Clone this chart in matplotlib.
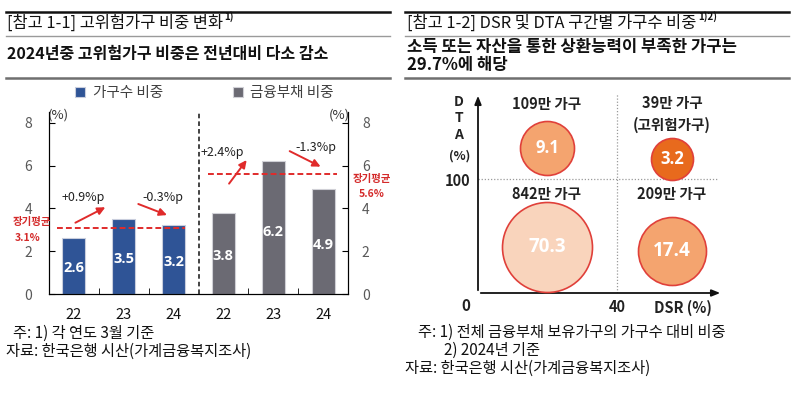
import matplotlib
matplotlib.use("Agg")
import matplotlib.pyplot as plt
from matplotlib.lines import Line2D

plt.rcParams['font.family'] = ['Noto Sans CJK KR', 'DejaVu Sans']

# left chart data
years = ['22', '23', '24']
hh_share = [2.6, 3.5, 3.2]        # 가구수 비중
debt_share = [3.8, 6.2, 4.9]      # 금융부채 비중
hh_avg = 3.1
debt_avg = 5.6
hh_changes = ['+0.9%p', '-0.3%p']
debt_changes = ['+2.4%p', '-1.3%p']

# right chart data (quadrants: DSR high?, DTA high?)
quad_share = [9.1, 3.2, 70.3, 17.4]
quad_households = ['109만 가구', '39만 가구\n(고위험가구)', '842만 가구', '209만 가구']
quad_dsr_high = [0, 1, 0, 1]
quad_dta_high = [1, 1, 0, 0]

W, H = 800, 398
fig = plt.figure(figsize=(W / 100, H / 100), dpi=100)
num_font = ['Open Sans', 'DejaVu Sans']


def fx(px):
    return px / W


def fy(py):
    return 1 - py / H


def hline(x0, x1, y, color, lw):
    fig.add_artist(Line2D([fx(x0), fx(x1)], [fy(y), fy(y)], color=color, lw=lw,
                          transform=fig.transFigure))


# header rules
for x0, x1 in [(6, 390), (405, 789)]:
    hline(x0, x1, 11.5, '#111111', 1.8)
    hline(x0, x1, 35.5, '#9a9a9a', 1.0)
    hline(x0, x1, 77.5, '#6f6f6f', 1.8)

renderer = fig.canvas.get_renderer()
t1 = fig.text(fx(7), fy(23), '[참고 1-1] 고위험가구 비중 변화', fontsize=11.8, va='center', color='#111111')
bb = t1.get_window_extent(renderer)
fig.text(bb.x1 / W + 0.002, fy(17), '1)', fontsize=7, fontweight='bold', va='center', color='#111111')
fig.text(fx(7), fy(54), '2024년중 고위험가구 비중은 전년대비 다소 감소', fontsize=11.5,
         fontweight='bold', va='center', color='#111111')

t2 = fig.text(fx(407), fy(23), '[참고 1-2] DSR 및 DTA 구간별 가구수 비중', fontsize=11.8, va='center', color='#111111')
bb = t2.get_window_extent(renderer)
fig.text(bb.x1 / W + 0.002, fy(17), '1)2)', fontsize=7, fontweight='bold', va='center', color='#111111')
fig.text(fx(407), fy(56), '소득 또는 자산을 통한 상환능력이 부족한 가구는\n29.7%에 해당', fontsize=12,
         fontweight='bold', va='center', color='#111111', linespacing=0.98)

# ---------------- left bar chart ----------------
blue = '#2F5496'
gray = '#6B6A73'
red = '#E02B2B'
ax = fig.add_axes([fx(49), fy(294), fx(348) - fx(49), (294 - 112) / H])
xs = list(range(6))
b1 = ax.bar(xs[:3], hh_share, width=0.46, color=blue, edgecolor='#C9CEDD', lw=0.8, label='가구수 비중')
b2 = ax.bar(xs[3:], debt_share, width=0.46, color=gray, edgecolor='#D0D0D6', lw=0.8, label='금융부채 비중')
for x, v in zip(xs, hh_share + debt_share):
    ax.text(x, v * 0.47, f'{v:.1f}', color='white', fontsize=10.5, fontweight='bold',
            ha='center', va='center', family=num_font)

ax.set_xlim(-0.5, 5.5)
ax.set_ylim(0, 8.5)
ax.set_yticks([0, 2, 4, 6, 8])
ax.set_xticks(xs)
ax.set_xticklabels(years + years, fontsize=10.5, color='#111111')
ax.tick_params(axis='x', length=0, pad=10)
ax.set_xticks([0.5, 1.5, 3.5, 4.5], minor=True)
ax.tick_params(axis='x', which='minor', direction='in', length=4)
ax.tick_params(axis='y', direction='in', length=4, labelsize=10, labelcolor='#595959', pad=12)
ax.spines['top'].set_visible(False)

ax2 = ax.twinx()
ax2.set_ylim(0, 8.5)
ax2.set_yticks([0, 2, 4, 6, 8])
ax2.tick_params(axis='y', direction='in', length=4, labelsize=10, labelcolor='#595959', pad=10)
ax2.spines['top'].set_visible(False)

ax.axvline(2.5, color='#111111', ls=(0, (3, 2)), lw=1.1)
ax.plot([-0.34, 2.22], [hh_avg, hh_avg], color=red, ls=(0, (3, 1.6)), lw=1.4)
ax.plot([2.7, 5.28], [debt_avg, debt_avg], color=red, ls=(0, (3, 1.6)), lw=1.4)

ax.text(0.03, 0.985, '(%)', transform=ax.transAxes, fontsize=9.5, color='#333333', ha='center', va='center')
ax.text(0.97, 0.985, '(%)', transform=ax.transAxes, fontsize=9.5, color='#333333', ha='center', va='center')

fig.text(fx(32), fy(222), '장기평균', color='#D42A2A', fontsize=7.5, fontweight='bold', ha='center', va='center')
fig.text(fx(28), fy(238), f'{hh_avg}%', color='#D42A2A', fontsize=7.5, fontweight='bold', ha='center', va='center')
fig.text(fx(372), fy(179), '장기평균', color='#D42A2A', fontsize=7.5, fontweight='bold', ha='center', va='center')
fig.text(fx(372), fy(194), f'{debt_avg}%', color='#D42A2A', fontsize=7.5, fontweight='bold', ha='center', va='center')

# change arrows: (text, text pos, arrow start, arrow end)
arrows = [
    (hh_changes[0], (0.18, 4.5), (-0.02, 3.27), (0.68, 4.11)),
    (hh_changes[1], (1.78, 4.5), (1.24, 4.25), (1.92, 3.64)),
    (debt_changes[0], (2.98, 6.6), (3.08, 5.05), (3.5, 6.36)),
    (debt_changes[1], (4.86, 6.82), (4.28, 6.73), (5.0, 5.89)),
]
for label, tpos, a0, a1 in arrows:
    ax.text(tpos[0], tpos[1], label, fontsize=9, color='#222222', ha='center', va='center')
    ax.annotate('', xy=a1, xytext=a0,
                arrowprops=dict(arrowstyle='-|>,head_length=0.45,head_width=0.22', color=red, lw=1.4))

ax.legend(handles=[b1, b2], loc='center', bbox_to_anchor=(0.52, 1.0 + 19 / 182), ncol=2, frameon=False,
          fontsize=10.5, handlelength=0.7, handleheight=0.7, handletextpad=0.5, columnspacing=4.8,
          labelcolor='#404040')

# ---------------- right quadrant chart ----------------
qx = fig.add_axes([fx(478), fy(293), fx(728) - fx(478), (293 - 93) / H])
qx.set_xlim(0, 1)
qx.set_ylim(0, 1)
qx.axis('off')
qx.annotate('', xy=(0.98, 0), xytext=(0, 0), xycoords='axes fraction',
            arrowprops=dict(arrowstyle='-|>,head_length=0.5,head_width=0.2', color='#111111', lw=1.3))
qx.annotate('', xy=(0, 1.0), xytext=(0, 0), xycoords='axes fraction',
            arrowprops=dict(arrowstyle='-|>,head_length=0.5,head_width=0.2', color='#111111', lw=1.3))
x_split, y_split = 0.556, 0.57
qx.plot([x_split, x_split], [0, 1.0], color='#9a9a9a', ls=(0, (1, 1.5)), lw=0.9)
qx.plot([0, 0.96], [y_split, y_split], color='#9a9a9a', ls=(0, (1, 1.5)), lw=0.9)

radius_px = [27, 21, 45, 34]
face = ['#F4A46F', '#E86A1D', '#F9D4BC', '#F4A46F']
cx = [0.276, 0.776]
cy = [0.23, 0.7]
label_y = [0.495, 0.945]
for share, hh, dh, th, r, fc in zip(quad_share, quad_households, quad_dsr_high, quad_dta_high, radius_px, face):
    x = cx[dh]
    y = cy[th] - (0.02 if dh and not th else 0) - (0.03 if dh and th else 0) + (0.025 if th and not dh else 0)
    qx.scatter([x], [y], s=(2 * r * 0.72) ** 2, color=fc, edgecolor='#E0403A', lw=1.2, zorder=3)
    qx.text(x, y, f'{share}', color='white', fontsize=13.5 if share > 10 else 12,
            fontweight='bold', ha='center', va='center', zorder=4, family=num_font)
    ly = label_y[th] - (0.05 if '\n' in hh else 0)
    qx.text(x, ly, hh, fontsize=10.5, fontweight='bold', color='#222222', ha='center', va='center',
            linespacing=1.45)

for ch, py in zip(['D', 'T', 'A'], [102, 118, 135]):
    fig.text(fx(459), fy(py), ch, fontsize=10, fontweight='bold', ha='center', va='center', color='#222222')
fig.text(fx(460), fy(156), '(%)', fontsize=9, fontweight='bold', ha='center', va='center', color='#222222')
fig.text(fx(458), fy(181), '100', fontsize=10.5, fontweight='bold', ha='center', va='center', color='#222222')
fig.text(fx(466), fy(306), '0', fontsize=11, fontweight='bold', ha='center', va='center', color='#222222')
fig.text(fx(617), fy(307), '40', fontsize=10.5, fontweight='bold', ha='center', va='center', color='#222222')
fig.text(fx(683), fy(308), 'DSR (%)', fontsize=10.5, fontweight='bold', ha='center', va='center', color='#222222')

# footnotes
fig.text(fx(13), fy(333), '주: 1) 각 연도 3월 기준', fontsize=11, va='center', color='#111111')
fig.text(fx(6), fy(351), '자료: 한국은행 시산(가계금융복지조사)', fontsize=11, va='center', color='#111111')
fig.text(fx(418), fy(332), '주: 1) 전체 금융부채 보유가구의 가구수 대비 비중', fontsize=11, va='center', color='#111111')
fig.text(fx(444), fy(350), '2) 2024년 기준', fontsize=11, va='center', color='#111111')
fig.text(fx(405), fy(368), '자료: 한국은행 시산(가계금융복지조사)', fontsize=11, va='center', color='#111111')

fig.savefig('out.png', dpi=100)
